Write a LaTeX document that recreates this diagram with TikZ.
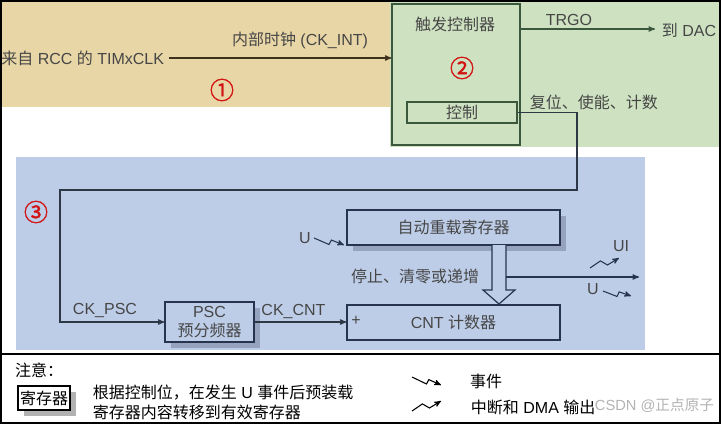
\documentclass[tikz,border=0pt]{standalone}
\usepackage{fontspec}
\setmainfont{Liberation Sans}
\newfontfamily\cjk{Noto Sans CJK SC}
\newfontfamily\numfont[FakeBold=1.6]{Noto Sans CJK SC}
\usetikzlibrary{arrows}
\usetikzlibrary{calc}
\usetikzlibrary{shadows}
\definecolor{tanbg}{RGB}{232,214,166}
\definecolor{greenbg}{RGB}{206,226,193}
\definecolor{bluebg}{RGB}{189,205,232}
\definecolor{shadowc}{RGB}{150,163,190}
\definecolor{navy}{RGB}{40,52,78}
\definecolor{darkgreen}{RGB}{60,88,60}
\definecolor{brownc}{RGB}{60,50,30}
\definecolor{linec}{RGB}{45,55,70}
\definecolor{txt}{RGB}{70,70,70}
\definecolor{numred}{RGB}{210,20,20}

\begin{document}
\begin{tikzpicture}[x=0.75pt,y=-0.75pt,>=stealth',thick,font=\fontsize{12}{14}\selectfont,text=txt,
  blue box/.style={draw=navy,fill=bluebg,line width=0.9pt,minimum width=159.75pt,minimum height=26.25pt,inner sep=0pt},
  green box/.style={draw=darkgreen,line width=0.9pt,inner sep=0pt},
  shadowed/.style={drop shadow={shadow xshift=4.5pt,shadow yshift=-4.5pt,fill=shadowc,opacity=1}},
  circ num/.style={text=numred,font=\fontsize{18}{18}\selectfont\numfont},
  event/.style={->,to path={-- ($(\tikztostart)!0.5!(\tikztotarget)+(0,3)$) -- ($(\tikztostart)!0.58!(\tikztotarget)+(0,-2)$) -- (\tikztotarget)}},
  irq/.style={->,to path={-- ($(\tikztostart)!0.36!(\tikztotarget)+(0,-3.5)$) -- ($(\tikztostart)!0.6!(\tikztotarget)+(0,3)$) -- (\tikztotarget)}}]
      \useasboundingbox (0,0) rectangle (721,424);

      % areas
      \fill[tanbg] (0,0) rectangle (391,107);
      \fill[greenbg] (390,0) rectangle (719,147);
      \fill[bluebg] (16,157) rectangle (645,350);

      % trigger controller
      \node[green box, minimum width=96pt, minimum height=105.75pt] (trig) at (456,74.5) {};
      \node (trig lbl) at (455,24) {\cjk 触发控制器};
      \node[circ num] (n2) at (462,68) {②};
      \node[green box, minimum width=82.5pt, minimum height=15.75pt] (ctrl) at (462,112.5) {\cjk 控制};

      % clock input
      \node[anchor=east] (src) at (169,58) {{\cjk 来自} RCC {\cjk 的} TIMxCLK};
      \node (ckint) at (300,40) {{\cjk 内部时钟} (CK\_INT)};
      \node[circ num] (n1) at (222,90) {①};
      \draw[->, brownc] (src.east) -- (src.east -| trig.west);

      % TRGO
      \coordinate (dac) at (655,29);
      \node[anchor=west] (dac lbl) at (657,30) {{\cjk 到} DAC};
      \node (trgo) at (569,20) {TRGO};
      \draw[->, darkgreen] (trig.east |- dac) -- (dac);
      \node[anchor=west] (rst lbl) at (525,102) {\cjk 复位、使能、计数};

      % time base unit
      \node[blue box, shadowed, minimum width=66.75pt, minimum height=30pt, align=center] (psc) at (209.5,322) {PSC\\{\cjk 预分频器}};
      \node[blue box, shadowed] (ar) at (453.5,227.5) {\cjk 自动重载寄存器};
      \node[blue box] (cnt) at (453.5,322.5) {CNT {\cjk 计数器}};
      \node (plus) at (356,321) {+};
      \node[circ num] (n3) at (36,212) {③};

      \coordinate (loop r) at (577,190);
      \coordinate (loop l) at (60,190);
      \draw[->, linec] (ctrl.east) -| (loop r) -- (loop l) |- (psc.west);
      \node (ckpsc) at (105,311) {CK\_PSC};
      \draw[->, linec] (psc.east) -- (psc.east -| cnt.west);
      \node (ckcnt) at (293.5,312) {CK\_CNT};

      \node (u in) at (305,238) {U};
      \coordinate (u in a) at (314,238);
      \coordinate (u in b) at (344,245);
      \draw[event, navy] (u in a) to (u in b);

      \draw[navy, line width=0.9pt, fill=bluebg] (492,245) -- (492,290) -- (483,290) -- (499,304) -- (515,290) -- (506,290) -- (506,245);
      \node (load lbl) at (415,276) {\cjk 停止、清零或递增};

      \coordinate (out l) at (506,277);
      \coordinate (out r) at (639,277);
      \draw[->, navy] (out l) -- (out r);
      \node (ui) at (621,246) {UI};
      \coordinate (ui a) at (590,268);
      \coordinate (ui b) at (619,258);
      \draw[irq, navy] (ui a) to (ui b);
      \node (u out) at (593,289) {U};
      \coordinate (u out a) at (603,291);
      \coordinate (u out b) at (631,296);
      \draw[event, navy] (u out a) to (u out b);

      % frame
      \draw[black, line width=1pt] (0,354) -- (720,354);
      \draw[black, line width=1.5pt] (1,1) rectangle (719.5,422.5);

      % legend
      \node[text=black] (note) at (39,370) {\cjk 注意：};
      \node[draw=black, fill=white, line width=0.9pt, drop shadow={shadow xshift=4.5pt,shadow yshift=-4.5pt,fill=gray!60,opacity=1}, minimum width=39pt, minimum height=18pt, inner sep=0pt, text=black] (reg key) at (44,398) {\cjk 寄存器};
      \node[anchor=west, text=black] (reg txt1) at (88,393) {{\cjk 根据控制位，在发生} U {\cjk 事件后预装载}};
      \node[anchor=west, text=black] (reg txt2) at (88,412) {\cjk 寄存器内容转移到有效寄存器};
      \coordinate (ev a) at (412,377);
      \coordinate (ev b) at (441,385);
      \draw[event, black] (ev a) to (ev b);
      \node[text=black] (ev lbl) at (486,381) {\cjk 事件};
      \coordinate (irq a) at (412,411);
      \coordinate (irq b) at (441,401);
      \draw[irq, black] (irq a) to (irq b);
      \node[anchor=west, text=black] (irq lbl) at (466,407) {{\cjk 中断和} DMA {\cjk 输出}};
      \node[anchor=east, text=gray, text opacity=0.6, inner sep=1pt, font=\fontsize{11}{13}\selectfont] (wm) at (716,405) {CSDN @{\cjk 正点原子}};
    \end{tikzpicture}
\end{document}
